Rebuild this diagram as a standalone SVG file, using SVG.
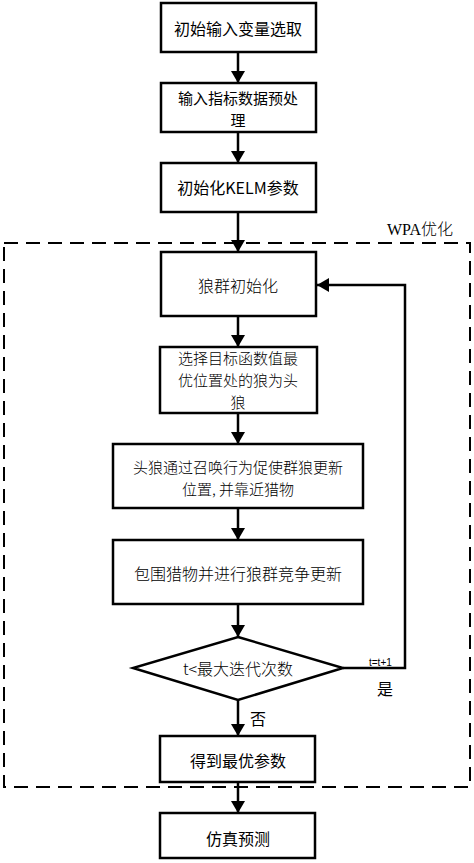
<svg xmlns="http://www.w3.org/2000/svg" width="474" height="863" viewBox="0 0 474 863">
<style>
.box{fill:#fff;stroke:#000;stroke-width:2.5}
.t{font-family:"Noto Sans CJK SC","Noto Sans",sans-serif;font-size:16px;fill:#000;text-anchor:middle;dominant-baseline:central}
.m{font-size:15px}
.s{font-weight:300}
.ln{stroke:#000;stroke-width:2.5;fill:none}
</style>
<defs>
<marker id="ah" viewBox="0 0 12 14" refX="12" refY="7" markerWidth="12" markerHeight="14" markerUnits="userSpaceOnUse" orient="auto">
<path d="M0,0 L12,7 L0,14 Z" fill="#000"/>
</marker>
</defs>
<rect x="4" y="243" width="466" height="544" fill="none" stroke="#000" stroke-width="2" stroke-dasharray="14,8"/>
<text class="t s" x="420" y="229" style="font-family:'Liberation Serif','Noto Sans CJK SC',serif">WPA优化</text>
<g id="connectors">
<line class="ln" x1="238" y1="52" x2="238" y2="83" marker-end="url(#ah)"/>
<line class="ln" x1="238" y1="132" x2="238" y2="163" marker-end="url(#ah)"/>
<line class="ln" x1="238" y1="212" x2="238" y2="252" marker-end="url(#ah)"/>
<line class="ln" x1="238" y1="316" x2="238" y2="347" marker-end="url(#ah)"/>
<line class="ln" x1="238" y1="413" x2="238" y2="444" marker-end="url(#ah)"/>
<line class="ln" x1="238" y1="508" x2="238" y2="540" marker-end="url(#ah)"/>
<line class="ln" x1="238" y1="604" x2="238" y2="637" marker-end="url(#ah)"/>
<line class="ln" x1="238" y1="700" x2="238" y2="736" marker-end="url(#ah)"/>
<line class="ln" x1="238" y1="782" x2="238" y2="813" marker-end="url(#ah)"/>
<polyline class="ln" points="343,668 405,668 405,285 317,285" marker-end="url(#ah)"/>
<text x="369" y="666" font-family="Liberation Sans,sans-serif" font-size="10">t=t+1</text>
<text class="t" x="385" y="688">是</text>
<text class="t" x="258" y="718">否</text>
</g>
<g id="n1"><rect class="box" x="161" y="3" width="155" height="49"/><text class="t" x="238" y="28">初始输入变量选取</text></g>
<g id="n2"><rect class="box" x="161" y="83" width="155" height="49"/><text class="t m" x="238" y="97">输入指标数据预处</text><text class="t m" x="238" y="119">理</text></g>
<g id="n3"><rect class="box" x="161" y="163" width="155" height="49"/><text class="t" x="238" y="187">初始化KELM参数</text></g>
<g id="n4"><rect class="box" x="161" y="252" width="155" height="64"/><text class="t s" x="238" y="285">狼群初始化</text></g>
<g id="n5"><rect class="box" x="160" y="347" width="157" height="66"/><text class="t s m" x="238" y="357">选择目标函数值最</text><text class="t s m" x="238" y="379">优位置处的狼为头</text><text class="t s m" x="238" y="401">狼</text></g>
<g id="n6"><rect class="box" x="113" y="444" width="250" height="64"/><text class="t s m" x="238" y="466">头狼通过召唤行为促使群狼更新</text><text class="t s m" x="238" y="488">位置, 并靠近猎物</text></g>
<g id="n7"><rect class="box" x="113" y="540" width="250" height="64"/><text class="t s" x="238" y="573">包围猎物并进行狼群竞争更新</text></g>
<g id="n8"><polygon class="box" points="238,637 343,668 238,700 133,668"/><text class="t s" x="238" y="668">t&lt;最大迭代次数</text></g>
<g id="n9"><rect class="box" x="160" y="736" width="155" height="46"/><text class="t" x="238" y="760">得到最优参数</text></g>
<g id="n10"><rect class="box" x="160" y="813" width="155" height="45"/><text class="t" x="238" y="838">仿真预测</text></g>
</svg>
